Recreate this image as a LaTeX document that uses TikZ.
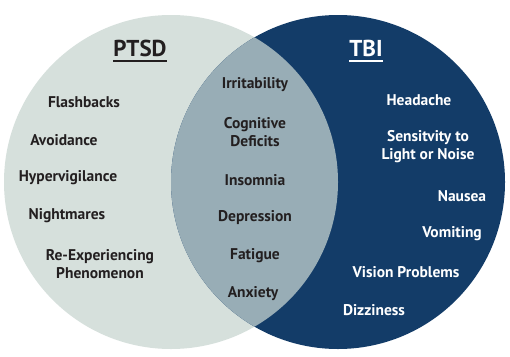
\documentclass[tikz,border=0pt]{standalone}
\usepackage{fontspec}
\setmainfont{PT Sans}
\usepackage{tikz}
\usepackage{xcolor}

\definecolor{ptsdgray}{HTML}{D6E0DC}
\definecolor{tbinavy}{HTML}{133C68}
\definecolor{bothblue}{HTML}{98ADB6}
\definecolor{inkdark}{HTML}{231F20}

\tikzset{
  symptom/.style={font=\fontsize{15.5}{18}\selectfont\bfseries, text=inkdark, align=center, inner sep=0pt},
  tbisymptom/.style={symptom, text=white},
  heading/.style={font=\fontsize{23}{26}\selectfont\bfseries, inner sep=0pt, anchor=base},
  underbar/.style={line width=2.6pt}
}

\begin{document}
\begin{tikzpicture}[x=1pt,y=-1pt]
\useasboundingbox (0,0) rectangle (510,356);
\fill[white] (0,0) rectangle (510,356);
% the two sets and their overlap
\fill[ptsdgray] (171,182) circle[radius=167pt];
\fill[tbinavy] (338,182) circle[radius=167pt];
\begin{scope}
\clip (171,182) circle[radius=167pt];
\fill[bothblue] (338,182) circle[radius=167pt];
\end{scope}
% headings
\node[heading, text=inkdark] (ptsd) at (140,56) {PTSD};
\draw[underbar, inkdark] ([yshift=-5pt]ptsd.base west) -- ([yshift=-5pt]ptsd.base east);
\node[heading, text=white] (tbi) at (366,56) {TBI};
\draw[underbar, white] ([yshift=-5pt]tbi.base west) -- ([yshift=-5pt]tbi.base east);
% PTSD only
\node[symptom] (flash) at (84,102) {Flashbacks};
\node[symptom] (avoid) at (64,140) {Avoidance};
\node[symptom] (hyper) at (68,178) {Hypervigilance};
\node[symptom] (night) at (67,216) {Nightmares};
\node[symptom] (reexp) at (100,264) {Re-Experiencing\\Phenomenon};
% shared
\node[symptom] (irrit) at (255,85) {Irritability};
\node[symptom] (cogn) at (255,132) {Cognitive\\Deficits};
\node[symptom] (insom) at (255,180) {Insomnia};
\node[symptom] (depr) at (255,218) {Depression};
\node[symptom] (fatig) at (255,256) {Fatigue};
\node[symptom] (anx) at (253,294) {Anxiety};
% TBI only
\node[tbisymptom] (head) at (419,100) {Headache};
\node[tbisymptom] (sens) at (428,147) {Sensitvity to\\Light or Noise};
\node[tbisymptom] (naus) at (462,196) {Nausea};
\node[tbisymptom] (vomit) at (452,234) {Vomiting};
\node[tbisymptom] (vision) at (406,272) {Vision Problems};
\node[tbisymptom] (dizzy) at (374,310) {Dizziness};
\end{tikzpicture}
\end{document}
